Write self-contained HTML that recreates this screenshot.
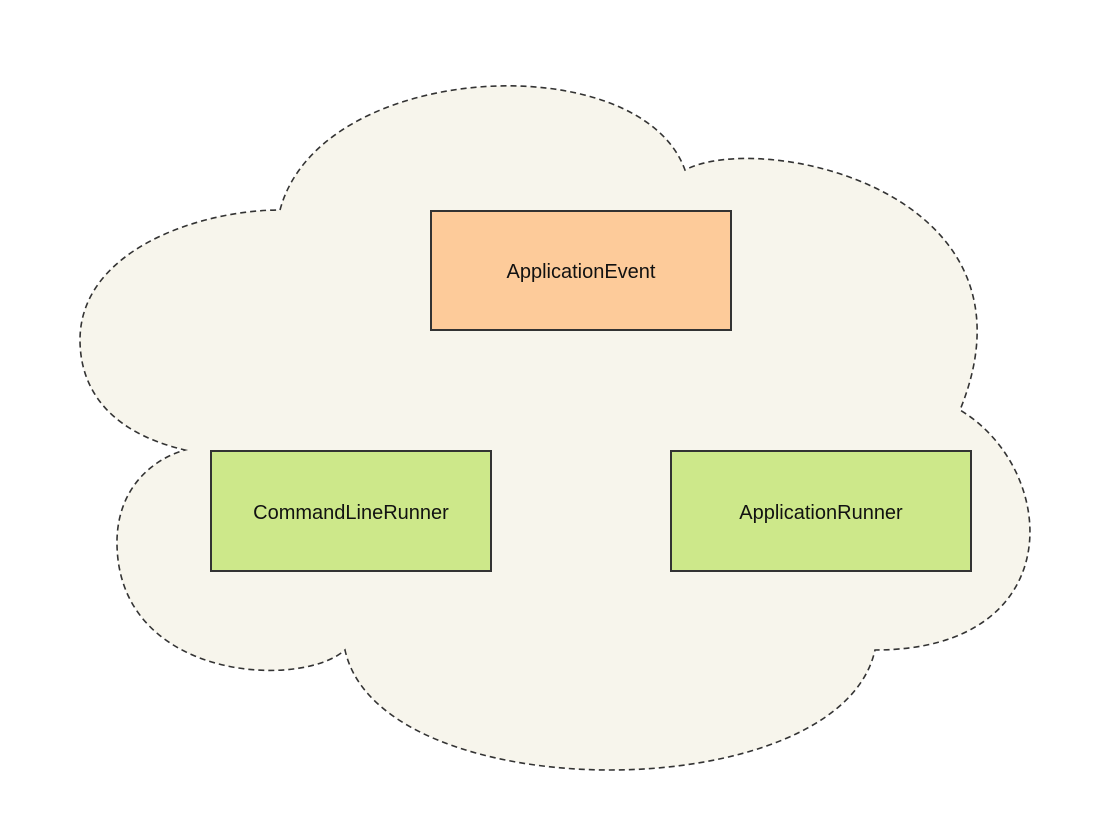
<!DOCTYPE html>
<html><head><meta charset="utf-8"><style>
html,body{margin:0;padding:0;background:#fff;}
svg{display:block;}
text{font-family:"Liberation Sans",Arial,sans-serif;font-size:20px;fill:#111;}
</style></head><body>
<svg width="1102" height="822" viewBox="0 0 1102 822" xmlns="http://www.w3.org/2000/svg">
<path d="M280,210 C320,60 640,45 685,170 C760,130 1050,190 960,410 C1060,470 1070,650 875,650 C840,810 380,810 345,650 C300,690 115,680 117,540 C118,490 150,460 185,450 C100,430 80,380 80,340 C80,250 200,210 280,210 Z" fill="#f7f5ec" stroke="#333" stroke-width="1.6" stroke-dasharray="6,4"/>
<rect x="431" y="211" width="300" height="119" fill="#fdcb9a" stroke="#333" stroke-width="2"/>
<text x="581" y="278" text-anchor="middle">ApplicationEvent</text>
<rect x="211" y="451" width="280" height="120" fill="#cde88a" stroke="#333" stroke-width="2"/>
<text x="351" y="519" text-anchor="middle">CommandLineRunner</text>
<rect x="671" y="451" width="300" height="120" fill="#cde88a" stroke="#333" stroke-width="2"/>
<text x="821" y="519" text-anchor="middle">ApplicationRunner</text>
</svg>
</body></html>
